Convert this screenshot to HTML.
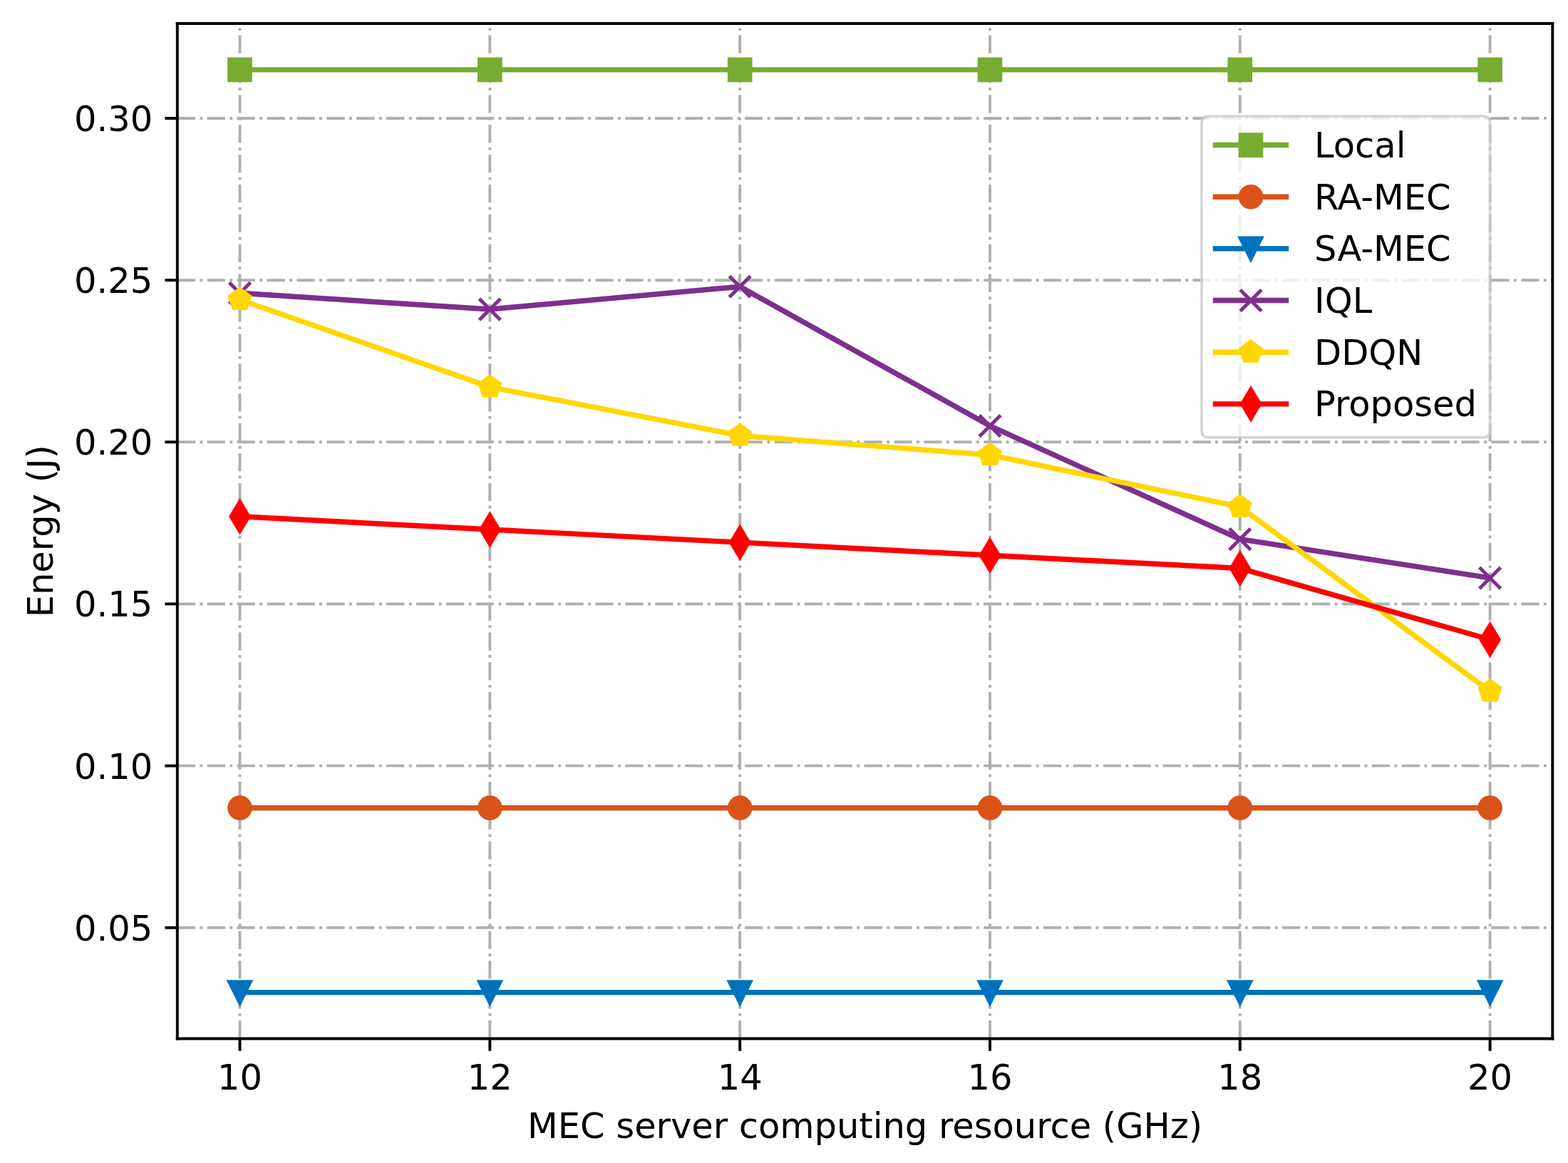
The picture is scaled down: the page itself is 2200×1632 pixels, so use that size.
<!DOCTYPE html>
<html><head><meta charset="utf-8"><title>Energy vs MEC server computing resource</title>
<style>
html,body{margin:0;padding:0;background:#fff;}
body{width:2200px;height:1632px;overflow:hidden;}
svg{display:block;}
</style></head>
<body>
<svg width="2200" height="1632" viewBox="0 0 444.444444 329.69697" preserveAspectRatio="none">
<defs>
<style type="text/css">*{stroke-linejoin: round; stroke-linecap: butt}</style>
</defs>
<g id="figure_1">
<g id="patch_1">
<path d="M 0 329.69697
L 444.444444 329.69697
L 444.444444 0
L 0 0
z
" style="fill: #ffffff"/>
</g>
<g id="axes_1">
<g id="patch_2">
<path d="M 50.262626 294.424242
L 440.060606 294.424242
L 440.060606 6.686869
L 50.262626 6.686869
z
" style="fill: #ffffff"/>
</g>
<g id="matplotlib.axis_1">
<g id="xtick_1">
<g id="line2d_1">
<path d="M 67.980716 294.424242
L 67.980716 6.686869
" clip-path="url(#p6e62c88219)" style="fill: none; stroke-dasharray: 5.1107,1.2777,0.7985,1.2777; stroke-dashoffset: 0; stroke: #b0b0b0; stroke-width: 0.8"/>
</g>
<g id="line2d_2">
<g>
<path d="M 0 0
L 0 3.5
" transform="translate(67.980716 294.424242)" style="stroke: #000000; stroke-width: 0.8; stroke: #000000; stroke-width: 0.8"/>
</g>
</g>
<g id="text_1">
<text style="font-size: 10px; font-family: 'DejaVu Sans', 'Liberation Sans', sans-serif; text-anchor: middle" x="67.9807" y="308.8227">10</text>
</g>
</g>
<g id="xtick_2">
<g id="line2d_3">
<path d="M 138.853076 294.424242
L 138.853076 6.686869
" clip-path="url(#p6e62c88219)" style="fill: none; stroke-dasharray: 5.1107,1.2777,0.7985,1.2777; stroke-dashoffset: 0; stroke: #b0b0b0; stroke-width: 0.8"/>
</g>
<g id="line2d_4">
<g>
<path d="M 0 0
L 0 3.5
" transform="translate(138.853076 294.424242)" style="stroke: #000000; stroke-width: 0.8; stroke: #000000; stroke-width: 0.8"/>
</g>
</g>
<g id="text_2">
<text style="font-size: 10px; font-family: 'DejaVu Sans', 'Liberation Sans', sans-serif; text-anchor: middle" x="138.8531" y="308.8227">12</text>
</g>
</g>
<g id="xtick_3">
<g id="line2d_5">
<path d="M 209.725436 294.424242
L 209.725436 6.686869
" clip-path="url(#p6e62c88219)" style="fill: none; stroke-dasharray: 5.1107,1.2777,0.7985,1.2777; stroke-dashoffset: 0; stroke: #b0b0b0; stroke-width: 0.8"/>
</g>
<g id="line2d_6">
<g>
<path d="M 0 0
L 0 3.5
" transform="translate(209.725436 294.424242)" style="stroke: #000000; stroke-width: 0.8; stroke: #000000; stroke-width: 0.8"/>
</g>
</g>
<g id="text_3">
<text style="font-size: 10px; font-family: 'DejaVu Sans', 'Liberation Sans', sans-serif; text-anchor: middle" x="209.7254" y="308.8227">14</text>
</g>
</g>
<g id="xtick_4">
<g id="line2d_7">
<path d="M 280.597796 294.424242
L 280.597796 6.686869
" clip-path="url(#p6e62c88219)" style="fill: none; stroke-dasharray: 5.1107,1.2777,0.7985,1.2777; stroke-dashoffset: 0; stroke: #b0b0b0; stroke-width: 0.8"/>
</g>
<g id="line2d_8">
<g>
<path d="M 0 0
L 0 3.5
" transform="translate(280.597796 294.424242)" style="stroke: #000000; stroke-width: 0.8; stroke: #000000; stroke-width: 0.8"/>
</g>
</g>
<g id="text_4">
<text style="font-size: 10px; font-family: 'DejaVu Sans', 'Liberation Sans', sans-serif; text-anchor: middle" x="280.5978" y="308.8227">16</text>
</g>
</g>
<g id="xtick_5">
<g id="line2d_9">
<path d="M 351.470156 294.424242
L 351.470156 6.686869
" clip-path="url(#p6e62c88219)" style="fill: none; stroke-dasharray: 5.1107,1.2777,0.7985,1.2777; stroke-dashoffset: 0; stroke: #b0b0b0; stroke-width: 0.8"/>
</g>
<g id="line2d_10">
<g>
<path d="M 0 0
L 0 3.5
" transform="translate(351.470156 294.424242)" style="stroke: #000000; stroke-width: 0.8; stroke: #000000; stroke-width: 0.8"/>
</g>
</g>
<g id="text_5">
<text style="font-size: 10px; font-family: 'DejaVu Sans', 'Liberation Sans', sans-serif; text-anchor: middle" x="351.4702" y="308.8227">18</text>
</g>
</g>
<g id="xtick_6">
<g id="line2d_11">
<path d="M 422.342516 294.424242
L 422.342516 6.686869
" clip-path="url(#p6e62c88219)" style="fill: none; stroke-dasharray: 5.1107,1.2777,0.7985,1.2777; stroke-dashoffset: 0; stroke: #b0b0b0; stroke-width: 0.8"/>
</g>
<g id="line2d_12">
<g>
<path d="M 0 0
L 0 3.5
" transform="translate(422.342516 294.424242)" style="stroke: #000000; stroke-width: 0.8; stroke: #000000; stroke-width: 0.8"/>
</g>
</g>
<g id="text_6">
<text style="font-size: 10px; font-family: 'DejaVu Sans', 'Liberation Sans', sans-serif; text-anchor: middle" x="422.3425" y="308.8227">20</text>
</g>
</g>
<g id="text_7">
<text style="font-size: 10px; font-family: 'DejaVu Sans', 'Liberation Sans', sans-serif; text-anchor: middle" x="245.1616" y="322.7008">MEC server computing resource (GHz)</text>
</g>
</g>
<g id="matplotlib.axis_2">
<g id="ytick_1">
<g id="line2d_13">
<path d="M 50.262626 262.98882
L 440.060606 262.98882
" clip-path="url(#p6e62c88219)" style="fill: none; stroke-dasharray: 5.1107,1.2777,0.7985,1.2777; stroke-dashoffset: 0; stroke: #b0b0b0; stroke-width: 0.8"/>
</g>
<g id="line2d_14">
<g>
<path d="M 0 0
L -3.5 0
" transform="translate(50.262626 262.98882)" style="stroke: #000000; stroke-width: 0.8; stroke: #000000; stroke-width: 0.8"/>
</g>
</g>
<g id="text_8">
<text style="font-size: 10px; font-family: 'DejaVu Sans', 'Liberation Sans', sans-serif; text-anchor: end" x="43.2626" y="266.6280">0.05</text>
</g>
</g>
<g id="ytick_2">
<g id="line2d_15">
<path d="M 50.262626 217.097691
L 440.060606 217.097691
" clip-path="url(#p6e62c88219)" style="fill: none; stroke-dasharray: 5.1107,1.2777,0.7985,1.2777; stroke-dashoffset: 0; stroke: #b0b0b0; stroke-width: 0.8"/>
</g>
<g id="line2d_16">
<g>
<path d="M 0 0
L -3.5 0
" transform="translate(50.262626 217.097691)" style="stroke: #000000; stroke-width: 0.8; stroke: #000000; stroke-width: 0.8"/>
</g>
</g>
<g id="text_9">
<text style="font-size: 10px; font-family: 'DejaVu Sans', 'Liberation Sans', sans-serif; text-anchor: end" x="43.2626" y="220.7369">0.10</text>
</g>
</g>
<g id="ytick_3">
<g id="line2d_17">
<path d="M 50.262626 171.206563
L 440.060606 171.206563
" clip-path="url(#p6e62c88219)" style="fill: none; stroke-dasharray: 5.1107,1.2777,0.7985,1.2777; stroke-dashoffset: 0; stroke: #b0b0b0; stroke-width: 0.8"/>
</g>
<g id="line2d_18">
<g>
<path d="M 0 0
L -3.5 0
" transform="translate(50.262626 171.206563)" style="stroke: #000000; stroke-width: 0.8; stroke: #000000; stroke-width: 0.8"/>
</g>
</g>
<g id="text_10">
<text style="font-size: 10px; font-family: 'DejaVu Sans', 'Liberation Sans', sans-serif; text-anchor: end" x="43.2626" y="174.8458">0.15</text>
</g>
</g>
<g id="ytick_4">
<g id="line2d_19">
<path d="M 50.262626 125.315435
L 440.060606 125.315435
" clip-path="url(#p6e62c88219)" style="fill: none; stroke-dasharray: 5.1107,1.2777,0.7985,1.2777; stroke-dashoffset: 0; stroke: #b0b0b0; stroke-width: 0.8"/>
</g>
<g id="line2d_20">
<g>
<path d="M 0 0
L -3.5 0
" transform="translate(50.262626 125.315435)" style="stroke: #000000; stroke-width: 0.8; stroke: #000000; stroke-width: 0.8"/>
</g>
</g>
<g id="text_11">
<text style="font-size: 10px; font-family: 'DejaVu Sans', 'Liberation Sans', sans-serif; text-anchor: end" x="43.2626" y="128.9547">0.20</text>
</g>
</g>
<g id="ytick_5">
<g id="line2d_21">
<path d="M 50.262626 79.424307
L 440.060606 79.424307
" clip-path="url(#p6e62c88219)" style="fill: none; stroke-dasharray: 5.1107,1.2777,0.7985,1.2777; stroke-dashoffset: 0; stroke: #b0b0b0; stroke-width: 0.8"/>
</g>
<g id="line2d_22">
<g>
<path d="M 0 0
L -3.5 0
" transform="translate(50.262626 79.424307)" style="stroke: #000000; stroke-width: 0.8; stroke: #000000; stroke-width: 0.8"/>
</g>
</g>
<g id="text_12">
<text style="font-size: 10px; font-family: 'DejaVu Sans', 'Liberation Sans', sans-serif; text-anchor: end" x="43.2626" y="83.0635">0.25</text>
</g>
</g>
<g id="ytick_6">
<g id="line2d_23">
<path d="M 50.262626 33.533179
L 440.060606 33.533179
" clip-path="url(#p6e62c88219)" style="fill: none; stroke-dasharray: 5.1107,1.2777,0.7985,1.2777; stroke-dashoffset: 0; stroke: #b0b0b0; stroke-width: 0.8"/>
</g>
<g id="line2d_24">
<g>
<path d="M 0 0
L -3.5 0
" transform="translate(50.262626 33.533179)" style="stroke: #000000; stroke-width: 0.8; stroke: #000000; stroke-width: 0.8"/>
</g>
</g>
<g id="text_13">
<text style="font-size: 10px; font-family: 'DejaVu Sans', 'Liberation Sans', sans-serif; text-anchor: end" x="43.2626" y="37.1724">0.30</text>
</g>
</g>
<g id="text_14">
<text style="font-size: 10px; font-family: 'DejaVu Sans', 'Liberation Sans', sans-serif; text-anchor: middle" x="14.9173" y="150.5556" transform="rotate(-90 14.9173 150.5556)">Energy (J)</text>
</g>
</g>
<g id="line2d_25">
<path d="M 67.980716 19.76584
L 138.853076 19.76584
L 209.725436 19.76584
L 280.597796 19.76584
L 351.470156 19.76584
L 422.342516 19.76584
" clip-path="url(#p6e62c88219)" style="fill: none; stroke: #77ac30; stroke-width: 1.5; stroke-linecap: square"/>
<g clip-path="url(#p6e62c88219)">
<path d="M -3 3
L 3 3
L 3 -3
L -3 -3
z
" transform="translate(67.980716 19.76584)" style="fill: #77ac30; stroke: #77ac30; stroke-linejoin: miter; stroke: #77ac30; stroke-linejoin: miter"/>
<path d="M -3 3
L 3 3
L 3 -3
L -3 -3
z
" transform="translate(138.853076 19.76584)" style="fill: #77ac30; stroke: #77ac30; stroke-linejoin: miter; stroke: #77ac30; stroke-linejoin: miter"/>
<path d="M -3 3
L 3 3
L 3 -3
L -3 -3
z
" transform="translate(209.725436 19.76584)" style="fill: #77ac30; stroke: #77ac30; stroke-linejoin: miter; stroke: #77ac30; stroke-linejoin: miter"/>
<path d="M -3 3
L 3 3
L 3 -3
L -3 -3
z
" transform="translate(280.597796 19.76584)" style="fill: #77ac30; stroke: #77ac30; stroke-linejoin: miter; stroke: #77ac30; stroke-linejoin: miter"/>
<path d="M -3 3
L 3 3
L 3 -3
L -3 -3
z
" transform="translate(351.470156 19.76584)" style="fill: #77ac30; stroke: #77ac30; stroke-linejoin: miter; stroke: #77ac30; stroke-linejoin: miter"/>
<path d="M -3 3
L 3 3
L 3 -3
L -3 -3
z
" transform="translate(422.342516 19.76584)" style="fill: #77ac30; stroke: #77ac30; stroke-linejoin: miter; stroke: #77ac30; stroke-linejoin: miter"/>
</g>
</g>
<g id="line2d_26">
<path d="M 67.980716 229.029385
L 138.853076 229.029385
L 209.725436 229.029385
L 280.597796 229.029385
L 351.470156 229.029385
L 422.342516 229.029385
" clip-path="url(#p6e62c88219)" style="fill: none; stroke: #d95319; stroke-width: 1.5; stroke-linecap: square"/>
<g clip-path="url(#p6e62c88219)">
<path d="M 0 3
C 0.795609 3 1.55874 2.683901 2.12132 2.12132
C 2.683901 1.55874 3 0.795609 3 0
C 3 -0.795609 2.683901 -1.55874 2.12132 -2.12132
C 1.55874 -2.683901 0.795609 -3 0 -3
C -0.795609 -3 -1.55874 -2.683901 -2.12132 -2.12132
C -2.683901 -1.55874 -3 -0.795609 -3 0
C -3 0.795609 -2.683901 1.55874 -2.12132 2.12132
C -1.55874 2.683901 -0.795609 3 0 3
z
" transform="translate(67.980716 229.029385)" style="fill: #d95319; stroke: #d95319; stroke: #d95319"/>
<path d="M 0 3
C 0.795609 3 1.55874 2.683901 2.12132 2.12132
C 2.683901 1.55874 3 0.795609 3 0
C 3 -0.795609 2.683901 -1.55874 2.12132 -2.12132
C 1.55874 -2.683901 0.795609 -3 0 -3
C -0.795609 -3 -1.55874 -2.683901 -2.12132 -2.12132
C -2.683901 -1.55874 -3 -0.795609 -3 0
C -3 0.795609 -2.683901 1.55874 -2.12132 2.12132
C -1.55874 2.683901 -0.795609 3 0 3
z
" transform="translate(138.853076 229.029385)" style="fill: #d95319; stroke: #d95319; stroke: #d95319"/>
<path d="M 0 3
C 0.795609 3 1.55874 2.683901 2.12132 2.12132
C 2.683901 1.55874 3 0.795609 3 0
C 3 -0.795609 2.683901 -1.55874 2.12132 -2.12132
C 1.55874 -2.683901 0.795609 -3 0 -3
C -0.795609 -3 -1.55874 -2.683901 -2.12132 -2.12132
C -2.683901 -1.55874 -3 -0.795609 -3 0
C -3 0.795609 -2.683901 1.55874 -2.12132 2.12132
C -1.55874 2.683901 -0.795609 3 0 3
z
" transform="translate(209.725436 229.029385)" style="fill: #d95319; stroke: #d95319; stroke: #d95319"/>
<path d="M 0 3
C 0.795609 3 1.55874 2.683901 2.12132 2.12132
C 2.683901 1.55874 3 0.795609 3 0
C 3 -0.795609 2.683901 -1.55874 2.12132 -2.12132
C 1.55874 -2.683901 0.795609 -3 0 -3
C -0.795609 -3 -1.55874 -2.683901 -2.12132 -2.12132
C -2.683901 -1.55874 -3 -0.795609 -3 0
C -3 0.795609 -2.683901 1.55874 -2.12132 2.12132
C -1.55874 2.683901 -0.795609 3 0 3
z
" transform="translate(280.597796 229.029385)" style="fill: #d95319; stroke: #d95319; stroke: #d95319"/>
<path d="M 0 3
C 0.795609 3 1.55874 2.683901 2.12132 2.12132
C 2.683901 1.55874 3 0.795609 3 0
C 3 -0.795609 2.683901 -1.55874 2.12132 -2.12132
C 1.55874 -2.683901 0.795609 -3 0 -3
C -0.795609 -3 -1.55874 -2.683901 -2.12132 -2.12132
C -2.683901 -1.55874 -3 -0.795609 -3 0
C -3 0.795609 -2.683901 1.55874 -2.12132 2.12132
C -1.55874 2.683901 -0.795609 3 0 3
z
" transform="translate(351.470156 229.029385)" style="fill: #d95319; stroke: #d95319; stroke: #d95319"/>
<path d="M 0 3
C 0.795609 3 1.55874 2.683901 2.12132 2.12132
C 2.683901 1.55874 3 0.795609 3 0
C 3 -0.795609 2.683901 -1.55874 2.12132 -2.12132
C 1.55874 -2.683901 0.795609 -3 0 -3
C -0.795609 -3 -1.55874 -2.683901 -2.12132 -2.12132
C -2.683901 -1.55874 -3 -0.795609 -3 0
C -3 0.795609 -2.683901 1.55874 -2.12132 2.12132
C -1.55874 2.683901 -0.795609 3 0 3
z
" transform="translate(422.342516 229.029385)" style="fill: #d95319; stroke: #d95319; stroke: #d95319"/>
</g>
</g>
<g id="line2d_27">
<path d="M 67.980716 281.345271
L 138.853076 281.345271
L 209.725436 281.345271
L 280.597796 281.345271
L 351.470156 281.345271
L 422.342516 281.345271
" clip-path="url(#p6e62c88219)" style="fill: none; stroke: #0072bd; stroke-width: 1.5; stroke-linecap: square"/>
<g clip-path="url(#p6e62c88219)">
<path d="M -0 3
L 3 -3
L -3 -3
z
" transform="translate(67.980716 281.345271)" style="fill: #0072bd; stroke: #0072bd; stroke-linejoin: miter; stroke: #0072bd; stroke-linejoin: miter"/>
<path d="M -0 3
L 3 -3
L -3 -3
z
" transform="translate(138.853076 281.345271)" style="fill: #0072bd; stroke: #0072bd; stroke-linejoin: miter; stroke: #0072bd; stroke-linejoin: miter"/>
<path d="M -0 3
L 3 -3
L -3 -3
z
" transform="translate(209.725436 281.345271)" style="fill: #0072bd; stroke: #0072bd; stroke-linejoin: miter; stroke: #0072bd; stroke-linejoin: miter"/>
<path d="M -0 3
L 3 -3
L -3 -3
z
" transform="translate(280.597796 281.345271)" style="fill: #0072bd; stroke: #0072bd; stroke-linejoin: miter; stroke: #0072bd; stroke-linejoin: miter"/>
<path d="M -0 3
L 3 -3
L -3 -3
z
" transform="translate(351.470156 281.345271)" style="fill: #0072bd; stroke: #0072bd; stroke-linejoin: miter; stroke: #0072bd; stroke-linejoin: miter"/>
<path d="M -0 3
L 3 -3
L -3 -3
z
" transform="translate(422.342516 281.345271)" style="fill: #0072bd; stroke: #0072bd; stroke-linejoin: miter; stroke: #0072bd; stroke-linejoin: miter"/>
</g>
</g>
<g id="line2d_28">
<path d="M 67.980716 83.095597
L 138.853076 87.68471
L 209.725436 81.259952
L 280.597796 120.726322
L 351.470156 152.850112
L 422.342516 163.863983
" clip-path="url(#p6e62c88219)" style="fill: none; stroke: #7e2f8e; stroke-width: 1.5; stroke-linecap: square"/>
<g clip-path="url(#p6e62c88219)">
<path d="M -3 3
L 3 -3
M -3 -3
L 3 3
" transform="translate(67.980716 83.095597)" style="fill: #7e2f8e; stroke: #7e2f8e; stroke: #7e2f8e"/>
<path d="M -3 3
L 3 -3
M -3 -3
L 3 3
" transform="translate(138.853076 87.68471)" style="fill: #7e2f8e; stroke: #7e2f8e; stroke: #7e2f8e"/>
<path d="M -3 3
L 3 -3
M -3 -3
L 3 3
" transform="translate(209.725436 81.259952)" style="fill: #7e2f8e; stroke: #7e2f8e; stroke: #7e2f8e"/>
<path d="M -3 3
L 3 -3
M -3 -3
L 3 3
" transform="translate(280.597796 120.726322)" style="fill: #7e2f8e; stroke: #7e2f8e; stroke: #7e2f8e"/>
<path d="M -3 3
L 3 -3
M -3 -3
L 3 3
" transform="translate(351.470156 152.850112)" style="fill: #7e2f8e; stroke: #7e2f8e; stroke: #7e2f8e"/>
<path d="M -3 3
L 3 -3
M -3 -3
L 3 3
" transform="translate(422.342516 163.863983)" style="fill: #7e2f8e; stroke: #7e2f8e; stroke: #7e2f8e"/>
</g>
</g>
<g id="line2d_29">
<path d="M 67.980716 84.931242
L 138.853076 109.712451
L 209.725436 123.47979
L 280.597796 128.986725
L 351.470156 143.671886
L 422.342516 195.987772
" clip-path="url(#p6e62c88219)" style="fill: none; stroke: #ffd700; stroke-width: 1.5; stroke-linecap: square"/>
<g clip-path="url(#p6e62c88219)">
<path d="M 0 -3
L -2.85317 -0.927051
L -1.763356 2.427051
L 1.763356 2.427051
L 2.85317 -0.927051
z
" transform="translate(67.980716 84.931242)" style="fill: #ffd700; stroke: #ffd700; stroke-linejoin: miter; stroke: #ffd700; stroke-linejoin: miter"/>
<path d="M 0 -3
L -2.85317 -0.927051
L -1.763356 2.427051
L 1.763356 2.427051
L 2.85317 -0.927051
z
" transform="translate(138.853076 109.712451)" style="fill: #ffd700; stroke: #ffd700; stroke-linejoin: miter; stroke: #ffd700; stroke-linejoin: miter"/>
<path d="M 0 -3
L -2.85317 -0.927051
L -1.763356 2.427051
L 1.763356 2.427051
L 2.85317 -0.927051
z
" transform="translate(209.725436 123.47979)" style="fill: #ffd700; stroke: #ffd700; stroke-linejoin: miter; stroke: #ffd700; stroke-linejoin: miter"/>
<path d="M 0 -3
L -2.85317 -0.927051
L -1.763356 2.427051
L 1.763356 2.427051
L 2.85317 -0.927051
z
" transform="translate(280.597796 128.986725)" style="fill: #ffd700; stroke: #ffd700; stroke-linejoin: miter; stroke: #ffd700; stroke-linejoin: miter"/>
<path d="M 0 -3
L -2.85317 -0.927051
L -1.763356 2.427051
L 1.763356 2.427051
L 2.85317 -0.927051
z
" transform="translate(351.470156 143.671886)" style="fill: #ffd700; stroke: #ffd700; stroke-linejoin: miter; stroke: #ffd700; stroke-linejoin: miter"/>
<path d="M 0 -3
L -2.85317 -0.927051
L -1.763356 2.427051
L 1.763356 2.427051
L 2.85317 -0.927051
z
" transform="translate(422.342516 195.987772)" style="fill: #ffd700; stroke: #ffd700; stroke-linejoin: miter; stroke: #ffd700; stroke-linejoin: miter"/>
</g>
</g>
<g id="line2d_30">
<path d="M 67.980716 146.425354
L 138.853076 150.096644
L 209.725436 153.767935
L 280.597796 157.439225
L 351.470156 161.110515
L 422.342516 181.302611
" clip-path="url(#p6e62c88219)" style="fill: none; stroke: #ff0000; stroke-width: 1.5; stroke-linecap: square"/>
<g clip-path="url(#p6e62c88219)">
<path d="M -0 4.242641
L 2.545584 0
L 0 -4.242641
L -2.545584 -0
z
" transform="translate(67.980716 146.425354)" style="fill: #ff0000; stroke: #ff0000; stroke-linejoin: miter; stroke: #ff0000; stroke-linejoin: miter"/>
<path d="M -0 4.242641
L 2.545584 0
L 0 -4.242641
L -2.545584 -0
z
" transform="translate(138.853076 150.096644)" style="fill: #ff0000; stroke: #ff0000; stroke-linejoin: miter; stroke: #ff0000; stroke-linejoin: miter"/>
<path d="M -0 4.242641
L 2.545584 0
L 0 -4.242641
L -2.545584 -0
z
" transform="translate(209.725436 153.767935)" style="fill: #ff0000; stroke: #ff0000; stroke-linejoin: miter; stroke: #ff0000; stroke-linejoin: miter"/>
<path d="M -0 4.242641
L 2.545584 0
L 0 -4.242641
L -2.545584 -0
z
" transform="translate(280.597796 157.439225)" style="fill: #ff0000; stroke: #ff0000; stroke-linejoin: miter; stroke: #ff0000; stroke-linejoin: miter"/>
<path d="M -0 4.242641
L 2.545584 0
L 0 -4.242641
L -2.545584 -0
z
" transform="translate(351.470156 161.110515)" style="fill: #ff0000; stroke: #ff0000; stroke-linejoin: miter; stroke: #ff0000; stroke-linejoin: miter"/>
<path d="M -0 4.242641
L 2.545584 0
L 0 -4.242641
L -2.545584 -0
z
" transform="translate(422.342516 181.302611)" style="fill: #ff0000; stroke: #ff0000; stroke-linejoin: miter; stroke: #ff0000; stroke-linejoin: miter"/>
</g>
</g>
<g id="patch_3">
<path d="M 50.262626 294.424242
L 50.262626 6.686869
" style="fill: none; stroke: #000000; stroke-width: 0.8; stroke-linejoin: miter; stroke-linecap: square"/>
</g>
<g id="patch_4">
<path d="M 440.060606 294.424242
L 440.060606 6.686869
" style="fill: none; stroke: #000000; stroke-width: 0.8; stroke-linejoin: miter; stroke-linecap: square"/>
</g>
<g id="patch_5">
<path d="M 50.262626 294.424242
L 440.060606 294.424242
" style="fill: none; stroke: #000000; stroke-width: 0.8; stroke-linejoin: miter; stroke-linecap: square"/>
</g>
<g id="patch_6">
<path d="M 50.262626 6.686869
L 440.060606 6.686869
" style="fill: none; stroke: #000000; stroke-width: 0.8; stroke-linejoin: miter; stroke-linecap: square"/>
</g>
<g id="legend_1">
<g id="patch_7">
<path d="M 342.605732 123.998043
L 420.323232 123.998043
Q 422.323232 123.998043 422.323232 121.998043
L 422.323232 34.929293
Q 422.323232 32.929293 420.323232 32.929293
L 342.605732 32.929293
Q 340.605732 32.929293 340.605732 34.929293
L 340.605732 121.998043
Q 340.605732 123.998043 342.605732 123.998043
z
" style="fill: #ffffff; opacity: 0.8; stroke: #cccccc; stroke-width: 0.75; stroke-linejoin: miter"/>
</g>
<g id="line2d_31">
<path d="M 344.545732 41.127730
L 354.545732 41.127730
L 364.545732 41.127730
" style="fill: none; stroke: #77ac30; stroke-width: 1.5; stroke-linecap: square"/>
<g>
<path d="M -3 3
L 3 3
L 3 -3
L -3 -3
z
" transform="translate(354.545732 41.127730)" style="fill: #77ac30; stroke: #77ac30; stroke-linejoin: miter; stroke: #77ac30; stroke-linejoin: miter"/>
</g>
</g>
<g id="text_15">
<text style="font-size: 10px; font-family: 'DejaVu Sans', 'Liberation Sans', sans-serif; text-anchor: start" x="372.5457" y="44.6277">Local</text>
</g>
<g id="line2d_32">
<path d="M 344.545732 55.805855
L 354.545732 55.805855
L 364.545732 55.805855
" style="fill: none; stroke: #d95319; stroke-width: 1.5; stroke-linecap: square"/>
<g>
<path d="M 0 3
C 0.795609 3 1.55874 2.683901 2.12132 2.12132
C 2.683901 1.55874 3 0.795609 3 0
C 3 -0.795609 2.683901 -1.55874 2.12132 -2.12132
C 1.55874 -2.683901 0.795609 -3 0 -3
C -0.795609 -3 -1.55874 -2.683901 -2.12132 -2.12132
C -2.683901 -1.55874 -3 -0.795609 -3 0
C -3 0.795609 -2.683901 1.55874 -2.12132 2.12132
C -1.55874 2.683901 -0.795609 3 0 3
z
" transform="translate(354.545732 55.805855)" style="fill: #d95319; stroke: #d95319; stroke: #d95319"/>
</g>
</g>
<g id="text_16">
<text style="font-size: 10px; font-family: 'DejaVu Sans', 'Liberation Sans', sans-serif; text-anchor: start" x="372.5457" y="59.3059">RA-MEC</text>
</g>
<g id="line2d_33">
<path d="M 344.545732 70.483980
L 354.545732 70.483980
L 364.545732 70.483980
" style="fill: none; stroke: #0072bd; stroke-width: 1.5; stroke-linecap: square"/>
<g>
<path d="M -0 3
L 3 -3
L -3 -3
z
" transform="translate(354.545732 70.483980)" style="fill: #0072bd; stroke: #0072bd; stroke-linejoin: miter; stroke: #0072bd; stroke-linejoin: miter"/>
</g>
</g>
<g id="text_17">
<text style="font-size: 10px; font-family: 'DejaVu Sans', 'Liberation Sans', sans-serif; text-anchor: start" x="372.5457" y="73.9840">SA-MEC</text>
</g>
<g id="line2d_34">
<path d="M 344.545732 85.162105
L 354.545732 85.162105
L 364.545732 85.162105
" style="fill: none; stroke: #7e2f8e; stroke-width: 1.5; stroke-linecap: square"/>
<g>
<path d="M -3 3
L 3 -3
M -3 -3
L 3 3
" transform="translate(354.545732 85.162105)" style="fill: #7e2f8e; stroke: #7e2f8e; stroke: #7e2f8e"/>
</g>
</g>
<g id="text_18">
<text style="font-size: 10px; font-family: 'DejaVu Sans', 'Liberation Sans', sans-serif; text-anchor: start" x="372.5457" y="88.6621">IQL</text>
</g>
<g id="line2d_35">
<path d="M 344.545732 99.840230
L 354.545732 99.840230
L 364.545732 99.840230
" style="fill: none; stroke: #ffd700; stroke-width: 1.5; stroke-linecap: square"/>
<g>
<path d="M 0 -3
L -2.85317 -0.927051
L -1.763356 2.427051
L 1.763356 2.427051
L 2.85317 -0.927051
z
" transform="translate(354.545732 99.840230)" style="fill: #ffd700; stroke: #ffd700; stroke-linejoin: miter; stroke: #ffd700; stroke-linejoin: miter"/>
</g>
</g>
<g id="text_19">
<text style="font-size: 10px; font-family: 'DejaVu Sans', 'Liberation Sans', sans-serif; text-anchor: start" x="372.5457" y="103.3402">DDQN</text>
</g>
<g id="line2d_36">
<path d="M 344.545732 114.518355
L 354.545732 114.518355
L 364.545732 114.518355
" style="fill: none; stroke: #ff0000; stroke-width: 1.5; stroke-linecap: square"/>
<g>
<path d="M -0 4.242641
L 2.545584 0
L 0 -4.242641
L -2.545584 -0
z
" transform="translate(354.545732 114.518355)" style="fill: #ff0000; stroke: #ff0000; stroke-linejoin: miter; stroke: #ff0000; stroke-linejoin: miter"/>
</g>
</g>
<g id="text_20">
<text style="font-size: 10px; font-family: 'DejaVu Sans', 'Liberation Sans', sans-serif; text-anchor: start" x="372.5457" y="118.0184">Proposed</text>
</g>
</g>
</g>
</g>
<defs>
<clipPath id="p6e62c88219">
<rect x="50.262626" y="6.686869" width="389.79798" height="287.737374"/>
</clipPath>
</defs>
</svg>

</body></html>
